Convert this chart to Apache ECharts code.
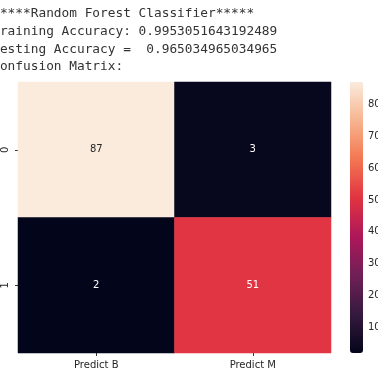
<!DOCTYPE html>
<html><head><meta charset="utf-8">
<script src="https://cdn.jsdelivr.net/npm/echarts@6/dist/echarts.min.js"></script>
<style>html,body{margin:0;padding:0;background:#fff}#c{width:378px;height:378px}</style>
</head><body><div id="c"></div>
<script>
const textLines = [
  "*****Random Forest Classifier*****",
  "Training Accuracy: 0.9953051643192489",
  "Testing Accuracy =  0.965034965034965",
  "Confusion Matrix:"
];
const xCategories = ["Predict B", "Predict M"];
const yCategories = ["0", "1"];
const matrix = [
  [87, 3],
  [2, 51]
];
const colorbarTicks = [10, 20, 30, 40, 50, 60, 70, 80];
const rocket = ["#03051a", "#35193e", "#701f57", "#ad1759", "#e13342", "#f37651", "#f6b48f", "#faebdd"];

const data = [];
matrix.forEach((row, yi) => row.forEach((v, xi) => data.push([xi, yi, v])));
const vmin = 2, vmax = 87;

const chart = echarts.init(document.getElementById('c'), null, {renderer: 'canvas'});
chart.setOption({
  animation: false,
  backgroundColor: '#ffffff',
  graphic: textLines.map((t, i) => ({
    type: 'text', x: -7.8, y: 14 + i * 17.7,
    style: {text: t, font: '12.8px "DejaVu Sans Mono"', fill: '#333333', verticalAlign: 'middle'}
  })),
  grid: [
    {left: 18, right: 47, top: 82, bottom: 25, outerBoundsMode: 'none', containLabel: false},
    {left: 350, right: 15, top: 82, bottom: 25, outerBoundsMode: 'none', containLabel: false}
  ],
  xAxis: [
    {type: 'category', data: xCategories, gridIndex: 0,
     axisLine: {show: false}, splitArea: {show: false},
     axisTick: {show: true, alignWithLabel: true, length: 3, lineStyle: {color: '#333'}},
     axisLabel: {color: '#262626', fontSize: 10, fontFamily: 'DejaVu Sans', margin: 7}},
    {type: 'value', gridIndex: 1, show: false, min: 0, max: 1}
  ],
  yAxis: [
    {type: 'category', data: yCategories, inverse: true, gridIndex: 0,
     axisLine: {show: false},
     axisTick: {show: true, alignWithLabel: true, length: 3, lineStyle: {color: '#333'}},
     axisLabel: {color: '#262626', fontSize: 10, fontFamily: 'DejaVu Sans', rotate: 90, margin: 8}},
    {type: 'value', gridIndex: 1, position: 'right', min: vmin, max: vmax,
     axisLine: {show: false}, splitLine: {show: false},
     axisTick: {show: true, length: 4, customValues: colorbarTicks, lineStyle: {color: '#333'}},
     axisLabel: {show: true, customValues: colorbarTicks, color: '#262626', fontSize: 10, fontFamily: 'DejaVu Sans', margin: 5}}
  ],
  visualMap: {
    type: 'continuous', min: vmin, max: vmax, calculable: false, seriesIndex: 0,
    orient: 'vertical', left: 350, top: 82, itemWidth: 13, itemHeight: 271,
    padding: 0, text: null, showLabel: false, textStyle: {fontSize: 0, color: 'transparent'},
    inRange: {color: rocket}
  },
  series: [{
    type: 'heatmap', xAxisIndex: 0, yAxisIndex: 0,
    data: data.map(d => ({value: d, label: {color: d[2] > 70 ? '#262626' : '#ffffff'}})),
    label: {show: true, fontSize: 10, fontFamily: 'DejaVu Sans',
      formatter: p => String(p.value[2])},
    itemStyle: {borderWidth: 0},
    emphasis: {disabled: true}
  }]
});
</script></body></html>
